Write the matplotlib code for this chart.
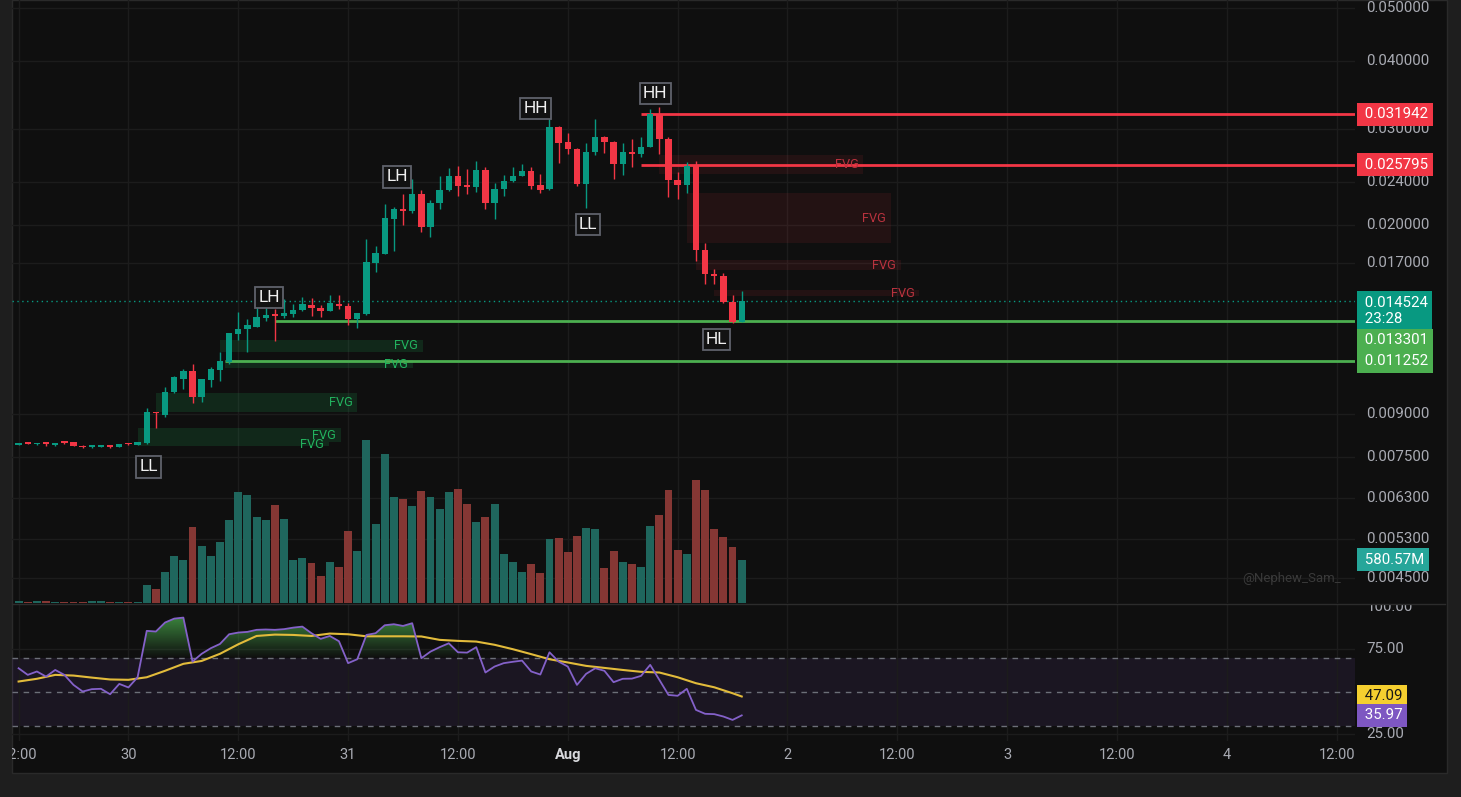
import matplotlib
matplotlib.use("Agg")
import matplotlib.pyplot as plt
import matplotlib.transforms as mtransforms
from matplotlib.transforms import Bbox
from matplotlib.patches import Rectangle, PathPatch
from matplotlib.path import Path
from matplotlib.lines import Line2D
import numpy as np

plt.rcParams['font.family'] = ['Roboto', 'DejaVu Sans']

# hourly candles, hours counted from Jul 29 00:00 (12 -> Jul 29 12:00, 91 -> Aug 1 19:00)
hours = np.arange(12, 92)
opens = [0.00790, 0.00795, 0.00791, 0.00794, 0.00788, 0.00799, 0.00798, 0.00787, 0.00782, 0.00782,
         0.00785, 0.00782, 0.00793, 0.00790, 0.00796, 0.00906, 0.00897, 0.00986, 0.01042, 0.01079,
         0.00966, 0.01039, 0.01084, 0.01123, 0.01263, 0.01289, 0.01301, 0.01348, 0.01369, 0.01362,
         0.01371, 0.01394, 0.01428, 0.01410, 0.01390, 0.01434, 0.01422, 0.01343, 0.01371, 0.01705,
         0.01769, 0.02053, 0.02136, 0.02121, 0.02281, 0.01980, 0.02196, 0.02318, 0.02462, 0.02360,
         0.02345, 0.02522, 0.02196, 0.02324, 0.02408, 0.02460, 0.02512, 0.02367, 0.02324, 0.03020,
         0.02834, 0.02759, 0.02374, 0.02722, 0.02903, 0.02842, 0.02584, 0.02718, 0.02695, 0.02783,
         0.03181, 0.02875, 0.02418, 0.02367, 0.02565, 0.01800, 0.01627, 0.01614, 0.01446, 0.01329]
highs = [0.00795, 0.00797, 0.00795, 0.00795, 0.00797, 0.00801, 0.00799, 0.00788, 0.00786, 0.00787,
         0.00786, 0.00792, 0.00795, 0.00799, 0.00922, 0.00907, 0.01007, 0.01055, 0.01086, 0.01111,
         0.01045, 0.01096, 0.01170, 0.01268, 0.01386, 0.01342, 0.01416, 0.01440, 0.01400, 0.01462,
         0.01433, 0.01477, 0.01471, 0.01424, 0.01485, 0.01485, 0.01436, 0.01380, 0.01882, 0.01829,
         0.02182, 0.02160, 0.02279, 0.02425, 0.02318, 0.02222, 0.02459, 0.02540, 0.02568, 0.02532,
         0.02620, 0.02553, 0.02390, 0.02470, 0.02553, 0.02584, 0.02553, 0.02477, 0.03352, 0.03037,
         0.02945, 0.02765, 0.02830, 0.03125, 0.02910, 0.02850, 0.02830, 0.02871, 0.02903, 0.03259,
         0.03295, 0.02903, 0.02498, 0.02612, 0.02624, 0.01850, 0.01661, 0.01629, 0.01487, 0.01515]
lows = [0.00788, 0.00791, 0.00790, 0.00786, 0.00787, 0.00794, 0.00785, 0.00779, 0.00778, 0.00781,
        0.00780, 0.00781, 0.00789, 0.00789, 0.00793, 0.00847, 0.00889, 0.00985, 0.00998, 0.00941,
        0.00948, 0.01009, 0.01034, 0.01111, 0.01230, 0.01169, 0.01298, 0.01334, 0.01226, 0.01348,
        0.01356, 0.01390, 0.01362, 0.01353, 0.01388, 0.01400, 0.01310, 0.01292, 0.01365, 0.01641,
        0.01765, 0.01791, 0.01999, 0.02105, 0.01943, 0.01903, 0.02142, 0.02310, 0.02260, 0.02276,
        0.02300, 0.02136, 0.02053, 0.02256, 0.02400, 0.02455, 0.02324, 0.02293, 0.02320, 0.02595,
        0.02695, 0.02355, 0.02145, 0.02687, 0.02707, 0.02425, 0.02469, 0.02553, 0.02669, 0.02780,
        0.02698, 0.02247, 0.02230, 0.02293, 0.01719, 0.01556, 0.01556, 0.01436, 0.01320, 0.01325]
closes = [0.00793, 0.00793, 0.00794, 0.00792, 0.00796, 0.00796, 0.00786, 0.00781, 0.00785, 0.00785,
          0.00782, 0.00791, 0.00791, 0.00798, 0.00906, 0.00902, 0.00989, 0.01050, 0.01079, 0.00968,
          0.01042, 0.01086, 0.01127, 0.01265, 0.01290, 0.01309, 0.01354, 0.01367, 0.01362, 0.01377,
          0.01398, 0.01430, 0.01408, 0.01390, 0.01436, 0.01420, 0.01343, 0.01377, 0.01708, 0.01779,
          0.02057, 0.02136, 0.02124, 0.02281, 0.01980, 0.02197, 0.02318, 0.02462, 0.02357, 0.02350,
          0.02522, 0.02197, 0.02324, 0.02411, 0.02462, 0.02514, 0.02357, 0.02318, 0.03020, 0.02830,
          0.02756, 0.02374, 0.02725, 0.02903, 0.02842, 0.02587, 0.02718, 0.02700, 0.02783, 0.03191,
          0.02875, 0.02418, 0.02364, 0.02565, 0.01800, 0.01625, 0.01614, 0.01442, 0.01329, 0.014524]
volume_m = [22, 9, 22, 22, 13, 13, 13, 13, 22, 22, 13, 13, 13, 13,
            243, 189, 418, 634, 580, 1026, 770, 634, 824, 1125,
            1499, 1458, 1161, 1120, 1323, 1134, 580, 608, 540, 365,
            554, 490, 972, 702, 2200, 1066, 2011, 1431, 1404, 1310,
            1512, 1431, 1269, 1499, 1539, 1336, 1094, 1161, 1336, 662,
            554, 418, 526, 405, 864, 878, 688, 904, 1012, 999,
            472, 702, 554, 526, 486, 1040, 1188, 1526, 716, 662,
            1660, 1526, 999, 891, 756, 580.57]
rsi = [63.7, 59.8, 61.8, 58.8, 62.7, 59.8, 53.9, 50.0, 51.4, 51.6, 48.4, 54.5, 52.4, 58.4,
       85.7, 85.3, 90.6, 92.9, 93.5, 67.6, 72.2, 75.5, 78.0, 83.7,
       84.7, 85.1, 86.3, 86.5, 86.3, 86.7, 87.6, 88.2, 84.3, 81.0,
       82.7, 79.6, 66.7, 69.0, 83.3, 84.3, 89.0, 89.6, 88.6, 90.2,
       69.6, 73.5, 76.1, 78.4, 73.1, 72.9, 76.1, 61.2, 64.7, 66.7,
       67.5, 68.2, 61.8, 60.0, 73.1, 67.6, 64.7, 53.9, 60.4, 63.7,
       62.2, 55.5, 57.5, 57.6, 59.2, 65.7, 56.9, 48.0, 47.5, 51.6,
       39.2, 36.9, 36.7, 35.3, 33.3, 35.97]
rsi_ma_hours = [12, 14, 16, 18, 20, 22, 24, 26, 28, 30, 32, 34, 36, 38, 40, 42, 44, 46, 48, 50,
                52, 54, 56, 58, 60, 62, 64, 66, 68, 70, 72, 74, 76, 78, 80, 82, 84, 86, 88, 90, 91]
rsi_ma = [55.9, 57.5, 59.8, 59.4, 58.2, 57.1, 56.9, 58.4, 62.2, 66.3, 68.0, 72.2, 77.8, 82.7,
          83.5, 83.3, 82.7, 84.1, 83.7, 82.5, 82.5, 82.5, 82.4, 80.4, 79.8, 79.4, 77.5, 74.9,
          72.0, 69.0, 67.1, 65.1, 63.9, 62.7, 61.6, 61.2, 58.4, 54.9, 52.5, 49.0, 47.09]

price_ticks = [0.05, 0.04, 0.03, 0.024, 0.02, 0.017, 0.009, 0.0075, 0.0063, 0.0053, 0.0045]
time_ticks = [12, 24, 36, 48, 60, 72, 84, 96, 108, 120, 132, 144, 156]
time_labels = ['12:00', '30', '12:00', '31', '12:00', 'Aug', '12:00', '2', '12:00', '3', '12:00', '4', '12:00']

resistance = [0.031942, 0.025795]
resistance_start = [80, 80]
support = [0.013301, 0.011252]
support_start = [40, 34.5]
last_price = 0.014524
countdown = '23:28'
last_rsi = 35.97
last_rsi_ma = 47.09

# (start bar, end bar, top, bottom)
bull_fvg = [(34, 56.2, 0.01230, 0.01170), (34.5, 55.1, 0.01130, 0.01091),
            (27, 49.0, 0.00985, 0.00906), (25, 47.2, 0.00847, 0.00800),
            (25, 45.9, 0.00799, 0.00785)]
bear_fvg = [(82, 104.3, 0.02687, 0.02477), (85, 107.3, 0.02286, 0.01850),
            (86, 108.4, 0.01722, 0.01651), (88, 110.4, 0.01518, 0.01479)]

swing_text = ['LL', 'LH', 'LH', 'HH', 'LL', 'HH', 'HL']
swing_bar = [26, 40, 54, 70, 74, 81, 90]

# ---------------------------------------------------------------
W, H = 1461, 797
fig = plt.figure(figsize=(W / 100, H / 100), dpi=100, facecolor='#1e1e1e')


def frect(xa, ya, xb, yb):
    return [xa / W, 1 - yb / H, (xb - xa) / W, (yb - ya) / H]


fig.add_artist(Rectangle((12 / W, 1 - 773 / H), (1447 - 12) / W, 773 / H,
                         transform=fig.transFigure, facecolor='#0f0f0f',
                         edgecolor='#2a2a2a', lw=1, zorder=0))

price_rect = frect(12, 0, 1355, 603)
axg = fig.add_axes(price_rect, zorder=1)
axv = fig.add_axes(price_rect, zorder=2)
axp = fig.add_axes(price_rect, zorder=3)
axr = fig.add_axes(frect(12, 604, 1355, 741), zorder=1)

x0, x1 = 11.28, 158.0
for a in (axg, axv, axp, axr):
    a.set_facecolor('none')
    a.axis('off')
for a in (axg, axp):
    a.set_yscale('log')
    a.set_ylim(0.004049, 0.05172)

grid_c = '#1c1c1c'
for p in price_ticks:
    axg.axhline(p, color=grid_c, lw=1)
for t in time_ticks:
    axg.axvline(t, color=grid_c, lw=1)
    axr.axvline(t, color=grid_c, lw=1)
for v in (75, 25):
    axr.axhline(v, color=grid_c, lw=1)

o = np.array(opens)
c = np.array(closes)
up = c >= o
ccol = np.where(up, '#089981', '#f23645')
vcol = np.where(up, '#1f665d', '#853734')

# volume
axv.bar(hours, volume_m, width=0.86, color=vcol, lw=0)
axv.set_ylim(0, 8141)

# fair value gaps
for xs, xe, top, bot in bull_fvg:
    axp.add_patch(Rectangle((xs, bot), xe - xs, top - bot, facecolor=(0.12, 0.67, 0.35, 0.16),
                            edgecolor='none', zorder=1))
    axp.annotate('FVG', xy=(xe, np.sqrt(top * bot)), xytext=(-5, 0), textcoords='offset pixels',
                 ha='right', va='center', color='#22b25e', fontsize=9.2, zorder=5)
for xs, xe, top, bot in bear_fvg:
    axp.add_patch(Rectangle((xs, bot), xe - xs, top - bot, facecolor=(0.95, 0.21, 0.27, 0.09),
                            edgecolor='none', zorder=1))
    axp.annotate('FVG', xy=(xe, np.sqrt(top * bot)), xytext=(-5, 0), textcoords='offset pixels',
                 ha='right', va='center', color='#b8323e', fontsize=9.2, zorder=5)

# levels
for lvl, st in zip(resistance, resistance_start):
    axp.hlines(lvl, st, x1, colors='#f23645', lw=2.0, zorder=2)
for lvl, st in zip(support, support_start):
    axp.hlines(lvl, st, x1, colors='#4caf50', lw=2.0, zorder=2)
axp.axhline(last_price, color='#089981', lw=1, ls=(0, (1, 2.5)), zorder=2)

# candles
axp.vlines(hours, lows, highs, colors=ccol, lw=1.0, zorder=3)
blo = np.minimum(o, c)
bhi = np.maximum(np.maximum(o, c), blo * 1.008)
axp.bar(hours, bhi - blo, bottom=blo, width=0.7, color=ccol, lw=0, zorder=4)

# swing labels
swing_offsets = [(2, -23), (-6, 12), (-6, 17), (-14, -6), (2, -16), (5, 16), (-16, -16)]
for txt, bar, (dx, dy) in zip(swing_text, swing_bar, swing_offsets):
    i = bar - 12
    anchor = lows[i] if txt in ('LL', 'HL') else highs[i]
    axp.annotate(txt, xy=(bar, anchor), xytext=(dx, dy), textcoords='offset pixels',
                 ha='center', va='center', color='#f0f0f0', fontsize=12.5, zorder=6,
                 bbox=dict(boxstyle='square,pad=0.18', fc='#121212', ec='#5f626b', lw=1.3))

for a in (axg, axv, axp):
    a.set_xlim(x0, x1)

# right price scale
bl = mtransforms.blended_transform_factory(axp.transAxes, axp.transData)
for p in price_ticks:
    axp.text(1.0085, p, f'{p:.6f}', transform=bl, ha='left', va='center',
             color='#a9abb3', fontsize=10.8, clip_on=False)


def tag(ax, y, text, fc, tc='white', dy=0, va='center'):
    ax.annotate(text, xy=(1.0, y), xycoords=('axes fraction', 'data'),
                xytext=(6, dy), textcoords='offset pixels', ha='left', va=va,
                color=tc, fontsize=10.8, annotation_clip=False, zorder=10, linespacing=1.2,
                bbox=dict(boxstyle='square,pad=0.3', fc=fc, ec='none'))


for lvl in resistance:
    tag(axp, lvl, f' {lvl:.6f}', '#f23645')
tag(axp, last_price, f' {last_price:.6f}\n {countdown}', '#089981', dy=5, va='top')
tag(axp, support[0], f' {support[0]:.6f}', '#4caf50', dy=-19)
tag(axp, support[1], f' {support[1]:.6f}', '#4caf50')
tag(axv, volume_m[-1], f' {volume_m[-1]:.2f}M', '#26a69a')

axp.text(0.953, 0.040, '@Nephew_Sam_', transform=axp.transAxes, ha='center', va='center',
         color='#3a3a3a', fontsize=9.5)

# RSI panel
axr.axhspan(30, 70, color=(126 / 255, 87 / 255, 194 / 255), alpha=0.11, lw=0)
for v in (70, 50, 30):
    axr.axhline(v, color='#6c6f78', lw=1, ls=(0, (4, 4)))
r = np.array(rsi)
ob = axr.fill_between(hours, 70, r, where=r > 70, interpolate=True, facecolor='none', edgecolor='none')
clip = PathPatch(Path.make_compound_path(*ob.get_paths()), transform=axr.transData,
                 facecolor='none', edgecolor='none')
grad = np.zeros((256, 1, 4))
grad[:, 0, 0], grad[:, 0, 1], grad[:, 0, 2] = 0.30, 0.70, 0.31
grad[:, 0, 3] = np.linspace(0, 0.75, 256)
img = axr.imshow(grad, extent=(x0, x1, 70, 95), origin='lower', aspect='auto',
                 interpolation='bilinear', zorder=2)
img.set_clip_path(clip)
axr.plot(rsi_ma_hours, rsi_ma, color='#e2bb3b', lw=1.5, zorder=3)
axr.plot(hours, rsi, color='#8461c9', lw=1.3, zorder=4)
axr.set_xlim(x0, x1)
axr.set_ylim(20.9, 101.5)

blr = mtransforms.blended_transform_factory(axr.transAxes, axr.transData)
rsi_clip = Bbox.from_extents(1355, H - 739, 1447, H - 604)
for v in (100, 75, 25):
    t = axr.text(1.0085, v, f'{v:.2f}', transform=blr, ha='left', va='center',
                 color='#a9abb3', fontsize=10.8)
    t.set_clip_box(rsi_clip)
    t.set_clip_on(True)
tag(axr, last_rsi_ma, f' {last_rsi_ma:.2f}', '#f5cf2f', tc='#161616')
tag(axr, last_rsi, f' {last_rsi:.2f}', '#7e57c2')

# time scale
blt = mtransforms.blended_transform_factory(axr.transData, axr.transAxes)
panel_clip = Bbox.from_extents(12, H - 773, 1447, H)
for t, s in zip(time_ticks, time_labels):
    tx = axr.text(t, -0.102, s, transform=blt, ha='center', va='center',
                  color='#d8d9dd' if s == 'Aug' else '#a9abb3', fontsize=10.5,
                  fontweight='bold' if s == 'Aug' else 'normal')
    tx.set_clip_box(panel_clip)
    tx.set_clip_on(True)

fig.add_artist(Line2D([12 / W, 1445 / W], [1 - 603.5 / H] * 2, transform=fig.transFigure,
                      color='#2c2c2c', lw=1, zorder=5))

fig.savefig('out.png', dpi=100, facecolor=fig.get_facecolor())
